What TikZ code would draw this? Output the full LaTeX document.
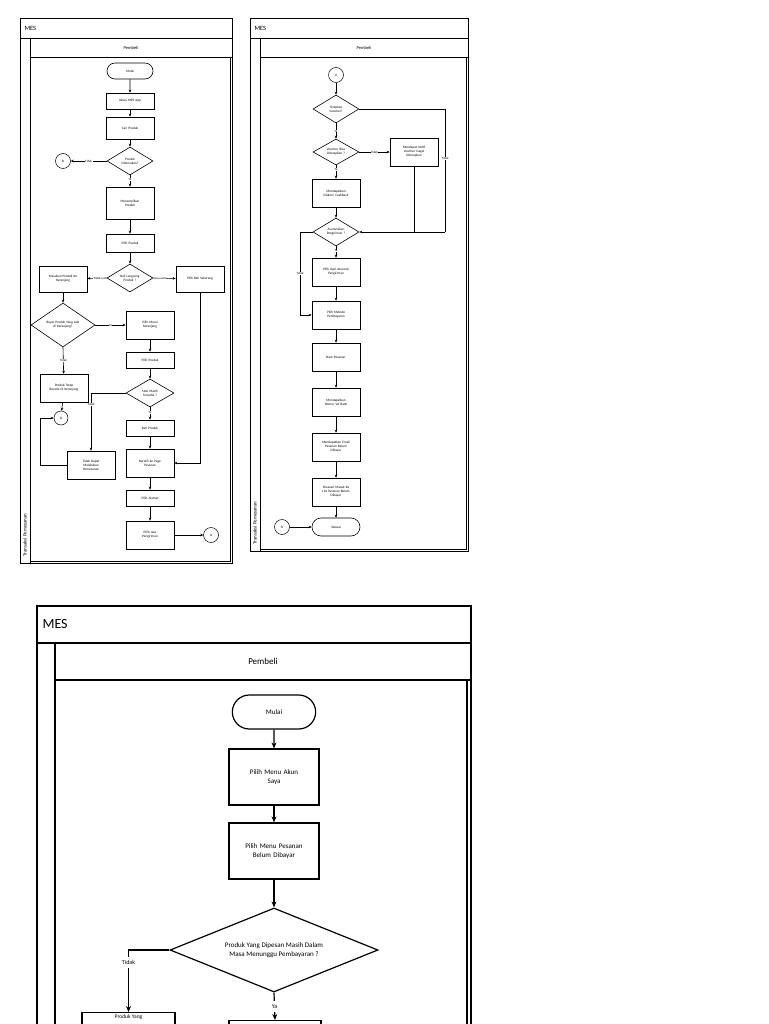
\documentclass[tikz,border=0pt]{standalone}
\usepackage{fontspec}
\setmainfont{Carlito}
\usetikzlibrary{shapes.geometric,shapes.misc,arrows.meta}
\tikzset{
 sm/.style={font=\fontsize{3.4}{4}\selectfont,align=center,text width=#1},
 bx/.style={draw,line width=0.6pt,minimum width=48pt,minimum height=28pt,inner sep=0.5pt,sm=44pt},
 dia/.style={draw,diamond,line width=0.6pt,minimum width=46pt,minimum height=28pt,inner sep=0pt,label={[sm=40pt,inner sep=0pt]center:#1}},
 term/.style={draw,rounded rectangle,line width=0.6pt,minimum width=46pt,minimum height=16pt,inner sep=0pt,sm=40pt},
 circ/.style={draw,circle,line width=0.5pt,minimum size=15pt,inner sep=0pt,font=\fontsize{3.4}{4}\selectfont},
 ar/.style={-{Stealth[length=3pt,width=2.6pt]},line width=0.6pt},
 ln/.style={line width=0.6pt},
 lb/.style={font=\fontsize{3.2}{4}\selectfont,fill=white,inner sep=0.3pt},
 frm/.style={draw,line width=0.8pt},
 bbx/.style={draw,line width=1.2pt,minimum width=90pt,minimum height=56pt,inner sep=1pt,align=center,text width=84pt,font=\fontsize{7}{8.5}\selectfont},
 bar/.style={-{Stealth[length=6pt,width=5pt]},line width=1.2pt},
 lane/.style={rotate=90,anchor=west,font=\fontsize{5}{6}\selectfont}
}
\begin{document}
\begin{tikzpicture}[x=1pt,y=-1pt]
\useasboundingbox (0,0) rectangle (768,1024);
\clip (0,0) rectangle (768,1024);
% ===== Panel 1 =====
\draw[frm] (20,18) rectangle (232,563);
\draw[frm] (20,38) -- (232,38);
\draw[frm] (30,38) -- (30,563);
\draw[frm] (30,57) -- (232,57);
\draw[frm] (30,57) rectangle (230,561);
\node[anchor=west,font=\fontsize{6.5}{7}\selectfont] (t1) at (21,28) {MES};
\node[font=\fontsize{4.5}{5}\selectfont] (h1) at (131,47.5) {Pembeli};
\node[lane] (l1) at (25,560) {Transaksi Pemesanan};

\node[term] (m1) at (130,71) {Mulai};
\node[bx,minimum height=16pt] (akses) at (130,101) {Akses MES App};
\node[bx,minimum height=22pt] (cari) at (130,128) {Cari Produk};
\node[dia={Produk\\Ditemukan?}] (ditemu) at (130,161) {};
\node[circ] (b1) at (63,161) {B};
\node[bx,minimum height=32pt] (tampil) at (130,203) {Menampilkan\\Produk};
\node[bx,minimum height=18pt] (pilih1) at (130,243) {Pilih Produk};
\node[dia={Beli Langsung\\Produk ?}] (beli) at (130,278) {};
\node[bx,minimum height=26pt] (masuk) at (63,279) {Masukan Produk Ke\\Keranjang};
\node[bx,minimum height=26pt] (sekarang) at (200,279) {Pilih Beli Sekarang};
\node[dia={Bayar Produk Yang Ada\\di Keranjang?},minimum width=64pt,minimum height=44pt] (bayar) at (63,325) {};
\node[bx] (menuk) at (150,325) {Pilih Menu\\Keranjang};
\node[bx,minimum height=16pt] (pilih2) at (150,360) {Pilih Produk};
\node[dia={Stok Masih\\Tersedia ?},minimum width=48pt] (stok) at (150,393) {};
\node[bx] (tetap) at (64,388) {Produk Tetap\\Berada Di Keranjang};
\node[circ,minimum size=14pt] (b2) at (61,418) {B};
\node[bx] (tidakdapat) at (91,465) {Tidak Dapat\\Melakukan\\Pemesanan};
\node[bx,minimum height=16pt] (beliprod) at (150,428) {Beli Produk};
\node[bx] (beralih) at (150,463) {Beralih ke Page\\Pesanan};
\node[bx,minimum height=16pt] (alamat) at (150,498) {Pilih Alamat};
\node[bx] (jasa) at (150,535) {Pilih Jasa\\Pengiriman};
\node[circ] (a1) at (211,535) {A};

\draw[ar] (m1) -- (akses);
\draw[ar] (akses) -- (cari);
\draw[ar] (cari) -- (ditemu);
\draw[ar] (ditemu.west) -- node[lb]{Tidak} (b1);
\draw[ar] (ditemu.south) -- node[lb,pos=0.35]{Ya} (tampil);
\draw[ar] (tampil) -- (pilih1);
\draw[ar] (pilih1) -- (beli);
\draw[ar] (beli.west) -- node[lb]{Tidak} (masuk);
\draw[ar] (beli.east) -- node[lb]{Ya} (sekarang);
\draw[ar] (masuk) -- (bayar);
\draw[ar] (bayar.east) -- node[lb]{Ya} (menuk);
\draw[ar] (bayar.south) -- node[lb]{Tidak} (tetap);
\draw[ar] (menuk) -- (pilih2);
\draw[ar] (pilih2) -- (stok);
\draw[ar] (tetap) -- (b2);
\draw[ar] (tidakdapat.west) -| (40,418) -- (b2);
\draw[ar] (stok.west) -| node[lb,pos=0.6]{Tidak} (tidakdapat.north);
\draw[ar] (stok.south) -- node[lb,pos=0.4]{Ya} (beliprod);
\draw[ar] (beliprod) -- (beralih);
\draw[ar] (sekarang.south) |- (beralih.east);
\draw[ar] (beralih) -- (alamat);
\draw[ar] (alamat) -- (jasa);
\draw[ar] (jasa) -- (a1);

% ===== Panel 2 =====
\draw[frm] (250,18) rectangle (468,551);
\draw[frm] (250,38) -- (468,38);
\draw[frm] (260,38) -- (260,551);
\draw[frm] (260,57) -- (468,57);
\draw[frm] (260,57) rectangle (466,549);
\node[anchor=west,font=\fontsize{6.5}{7}\selectfont] (t2) at (251,28) {MES};
\node[font=\fontsize{4.5}{5}\selectfont] (h2) at (364,47.5) {Pembeli};
\node[lane] (l2) at (255,548) {Transaksi Pemesanan};

\node[circ] (a2) at (336,75) {A};
\node[dia={Terapkan\\Voucher?}] (terap) at (336,109) {};
\node[dia={Voucher Bisa\\Diterapkan ?},minimum height=26pt] (bisa) at (336,152) {};
\node[bx] (notif) at (414,152) {Mendapat Notif\\Voucher Gagal\\Diterapkan};
\node[bx] (diskon) at (336,193) {Mendapatkan\\Diskon/ Cashback};
\node[dia={Asuransikan\\Pengiriman ?}] (asur) at (336,232) {};
\node[bx] (opsi) at (336,272) {Pilih Opsi Asuransi\\Pengiriman};
\node[bx] (metode) at (336,315) {Pilih Metode\\Pembayaran};
\node[bx] (buat) at (336,357) {Buat Pesanan};
\node[bx] (va) at (336,402) {Mendapatkan\\Nomor VA Bank};
\node[bx] (email) at (336,447) {Mendapatkan Email\\Pesanan Belum\\Dibayar};
\node[bx] (list) at (336,492) {Pesanan Masuk Ke\\List Pesanan Belum\\Dibayar};
\node[circ] (b3) at (282,527) {B};
\node[term,minimum width=48pt,minimum height=18pt] (selesai) at (336,527) {Selesai};

\draw[ar] (a2) -- (terap);
\draw[ar] (terap.south) -- node[lb]{Ya} (bisa);
\draw[ar] (bisa.east) -- node[lb]{Tidak} (notif);
\draw[ar] (bisa.south) -- node[lb,pos=0.3]{Ya} (diskon);
\draw[ar] (diskon) -- (asur);
\draw[ln] (terap.east) -| node[lb,pos=0.7]{Tidak} (445,232);
\draw[ln] (notif.south) -- (414,232);
\draw[ar] (445,232) -- (asur.east);
\draw[ar] (asur.south) -- node[lb,pos=0.4]{Ya} (opsi);
\draw[ar] (asur.west) -| (300,315) node[lb,pos=0.75]{Tidak} -- (metode.west);
\draw[ar] (opsi) -- (metode);
\draw[ar] (metode) -- (buat);
\draw[ar] (buat) -- (va);
\draw[ar] (va) -- (email);
\draw[ar] (email) -- (list);
\draw[ar] (list) -- (selesai);
\draw[ar] (b3) -- (selesai);

% ===== Panel 3 =====
\draw[line width=1.2pt] (37,606) rectangle (471,1030);
\draw[line width=1.2pt] (37,643) -- (471,643);
\draw[line width=1.2pt] (55,643) -- (55,1030);
\draw[line width=1.2pt] (55,680) -- (471,680);
\draw[line width=1.2pt] (55,680) rectangle (467,1030);
\node[anchor=west,font=\fontsize{14}{15}\selectfont] (t3) at (39,624) {MES};
\node[font=\fontsize{9}{10}\selectfont] (h3) at (263,661) {Pembeli};

\node[draw,rounded rectangle,line width=1.2pt,minimum width=90pt,minimum height=34pt,font=\fontsize{7}{8.5}\selectfont] (m3) at (274,712) {Mulai};
\node[bbx] (akun) at (274,777) {Pilih Menu Akun\\Saya};
\node[bbx] (pbd) at (274,851) {Pilih Menu Pesanan\\Belum Dibayar};
\node[draw,diamond,line width=1.2pt,minimum width=208pt,minimum height=84pt,inner sep=0pt,label={[align=center,font=\fontsize{7}{8.5}\selectfont]center:Produk Yang Dipesan Masih Dalam\\Masa Menunggu Pembayaran ?}] (masa) at (274,950) {};
\node[draw,line width=1.2pt,minimum width=93pt,minimum height=40pt,anchor=north] (pyang) at (128.5,1012) {};
\node[anchor=north,font=\fontsize{5.5}{6}\selectfont,inner sep=0pt] (pyt) at (128.5,1014) {Produk Yang};
\node[draw,line width=1.2pt,minimum width=92pt,minimum height=40pt,anchor=north] (ya3) at (275,1020) {};

\draw[bar] (m3) -- (akun);
\draw[bar] (akun) -- (pbd);
\draw[bar] (pbd) -- (masa);
\draw[bar] (masa.west) -| node[fill=white,font=\fontsize{6}{7}\selectfont,pos=0.6]{Tidak} (pyang.north);
\draw[bar] (masa.south) -- node[fill=white,font=\fontsize{6}{7}\selectfont]{Ya} (ya3.north);
\end{tikzpicture}
\end{document}
